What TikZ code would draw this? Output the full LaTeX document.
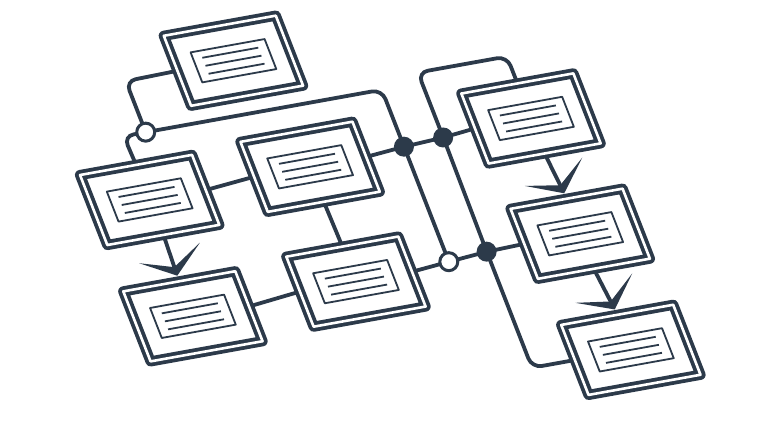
\documentclass[tikz,border=0pt]{standalone}
\usetikzlibrary{arrows.meta}
\usetikzlibrary{backgrounds}
\definecolor{ink}{RGB}{44,58,74}

\begin{document}
\begin{tikzpicture}[x=1pt, y=1pt, line join=round,
  card/.style={draw=ink, line width=3.8pt, double=white, double distance=2.6pt, fill=white,
    minimum width=112pt, minimum height=70pt, inner sep=0pt, transform shape},
  memo/.style={draw=ink, line width=1.8pt},
  wire/.style={draw=ink, line width=3.8pt, rounded corners=10pt},
  flow/.style={draw=ink, line width=3.8pt, shorten >=4pt,
    -{Stealth[length=24pt, width=64pt, inset=15pt]}},
  hole/.style={circle, draw=ink, line width=3pt, fill=white, minimum size=18pt, inner sep=0pt},
  knot/.style={circle, fill=ink, minimum size=20pt, inner sep=0pt}]
  \useasboundingbox (0,0) rectangle (768,-432);
  \begin{scope}[on background layer]
    \fill[white] (0,0) rectangle (768,-432);
  \end{scope}
  \begin{scope}[cm={1,0.18,-0.39,1,(0,0)}]
    \foreach \n/\a/\b in {b1/196/96, b2/67/212, b3/229/208, b4/453/200,
                          b5/65/328, b6/230/323, b7/457/316, b8/462/433} {
      \node[card] (\n) at (\a,-\b) {};
      \draw[memo] (\a-37,-\b-15) rectangle (\a+37,15-\b);
      \foreach \k in {-8,0,8}
        \draw[memo] (\a-28,\k-\b) -- (\a+28,\k-\b);
    }
    \node[hole] (c1) at (88,-148) {};
    \node[hole] (c2) at (324,-320) {};
    \node[knot] (d1) at (324,-205) {};
    \node[knot] (d2) at (364,-203) {};
    \node[knot] (d3) at (363,-317) {};
    \coordinate (k1) at (88,-97);
    \coordinate (k2) at (66,-148);
    \coordinate (k3) at (324,-148);
    \coordinate (k4) at (364,-138);
    \coordinate (k5) at (453,-138);
    \coordinate (k6) at (363,-433);
    \begin{scope}[on background layer]
      \path[wire] (b1.west) -- (k1) -- (c1.center);
      \path[wire] (c1.center) -- (k2) -- (b2.north);
      \path[wire] (c1.center) -- (k3) -- (d1.center);
      \path[wire] (d2.center) -- (k4) -- (k5) -- (b4.north);
      \path[wire] (d2.center) -- (d3.center) -- (k6) -- (b8.west);
      \path[wire] (b3.east) -- (d1.center) -- (d2.center) -- (b4.west);
      \path[wire] (d1.center) -- (c2.center) -- (b6.east);
      \path[wire] (c2.center) -- (d3.center) -- (b7.west);
      \path[wire] (b2.east) -- (b3.west);
      \path[wire] (b3.south) -- (b6.north);
      \path[wire] (b5.east) -- (b6.west);
      \path[flow] (b2.south) -- (b5.north);
      \path[flow] (b4.south) -- (b7.north);
      \path[flow] (b7.south) -- (b8.north);
    \end{scope}
  \end{scope}
\end{tikzpicture}
\end{document}
